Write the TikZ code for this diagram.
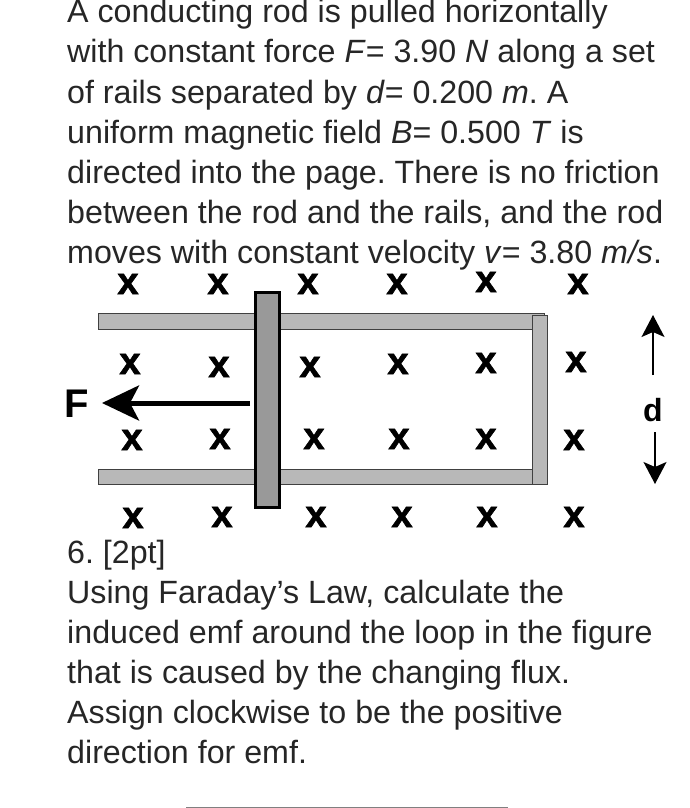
\documentclass[tikz,border=0pt]{standalone}
\usepackage{fontspec}
\setmainfont{Liberation Sans}
\newfontfamily\figfont{Liberation Sans}
\newfontfamily\xfont{Liberation Sans}[UprightFont={* Bold},FakeBold=1.6]
\usetikzlibrary{arrows.meta}
\frenchspacing
\tikzset{
  x=1pt,y=-1pt,
  textline/.style={anchor=base west,inner sep=0pt,font=\fontsize{32.2}{32}\selectfont,text=black!85},
  fieldx/.style={inner sep=0pt,font=\xfont\fontsize{38}{38}\selectfont},
  figlabel/.style={inner sep=0pt,font=\figfont\bfseries},
  rail/.style={draw=black!75,line width=1.2pt,fill=black!28,inner sep=0pt,minimum width=0pt},
  rodbox/.style={draw=black,line width=3pt,fill=black!40,inner sep=0pt},
  forcearrow/.style={line width=5pt,-{Stealth[length=37pt,width=35pt,inset=9pt]}},
  sizearrow/.style={line width=1.3pt,-{Stealth[length=22pt,width=23pt,inset=5pt]}}
}
\begin{document}
\begin{tikzpicture}
\useasboundingbox (0,0) rectangle (689,808);
\fill[white] (0,0) rectangle (689,808);
% text
\node[textline] (t1) at (67,23) {A conducting rod is pulled horizontally};
\node[textline] (t2) at (67,63) {with constant force \textit{F}= 3.90 \textit{N} along a set};
\node[textline] (t3) at (67,103) {of rails separated by \textit{d}= 0.200 \textit{m}. A};
\node[textline] (t4) at (67,143) {uniform magnetic field \textit{B}= 0.500 \textit{T} is};
\node[textline] (t5) at (67,183) {directed into the page. There is no friction};
\node[textline] (t6) at (67,223) {between the rod and the rails, and the rod};
\node[textline] (t7) at (67,263) {moves with constant velocity \textit{v}= 3.80 \textit{m/s}.};
\node[textline] (t8) at (67,563) {6. [2pt]};
\node[textline] (t9) at (67,603) {Using Faraday's Law, calculate the};
\node[textline] (t10) at (67,643) {induced emf around the loop in the figure};
\node[textline] (t11) at (67,683) {that is caused by the changing flux.};
\node[textline] (t12) at (67,723) {Assign clockwise to be the positive};
\node[textline] (t13) at (67,763) {direction for emf.};
% rails
\node[rail,anchor=north west,minimum width=446pt,minimum height=16pt] (railtop) at (98,313) {};
\node[rail,anchor=north west,minimum width=446pt,minimum height=15pt] (railbot) at (98,469) {};
\node[rail,anchor=north west,minimum width=15pt,minimum height=169pt] (railend) at (532,315) {};
\node[rodbox,anchor=north west,minimum width=24pt,minimum height=215pt] (rod) at (254,290.5) {};
% field marks
\foreach \n/\px/\py in {
 a1/128/284,a2/218/284,a3/308/284,a4/397/284,a5/486/282,a6/578/284,
 b1/130/364,b2/219/367,b3/310/367,b4/398/364,b5/486/363,b6/576/362,
 c1/132/440,c2/220/439,c3/314/439,c4/399/439,c5/486/439,c6/574/440,
 d1/133/518,d2/222/517,d3/316/517,d4/402/517,d5/487/517,d6/574/517}
  \node[fieldx] (\n) at (\px,\py) {x};
% force
\node[figlabel,font=\figfont\bfseries\fontsize{40}{40}\selectfont] (F) at (77,404) {F};
\coordinate (ftail) at (250,403);
\coordinate (ftip) at (102,403);
\draw[forcearrow] (ftail) -- (ftip);
% d
\node[figlabel,font=\figfont\bfseries\fontsize{32}{32}\selectfont] (dlabel) at (653,410) {d};
\coordinate (dtop) at (653,315);
\coordinate (dbot) at (655,484);
\coordinate (dup) at (653,375);
\coordinate (ddown) at (655,432);
\draw[sizearrow] (dup) -- (dtop);
\draw[sizearrow] (ddown) -- (dbot);
% rule at the bottom
\coordinate (rulea) at (186,807.5);
\coordinate (ruleb) at (508,807.5);
\draw[black!50,line width=1pt] (rulea) -- (ruleb);
\end{tikzpicture}
\end{document}
